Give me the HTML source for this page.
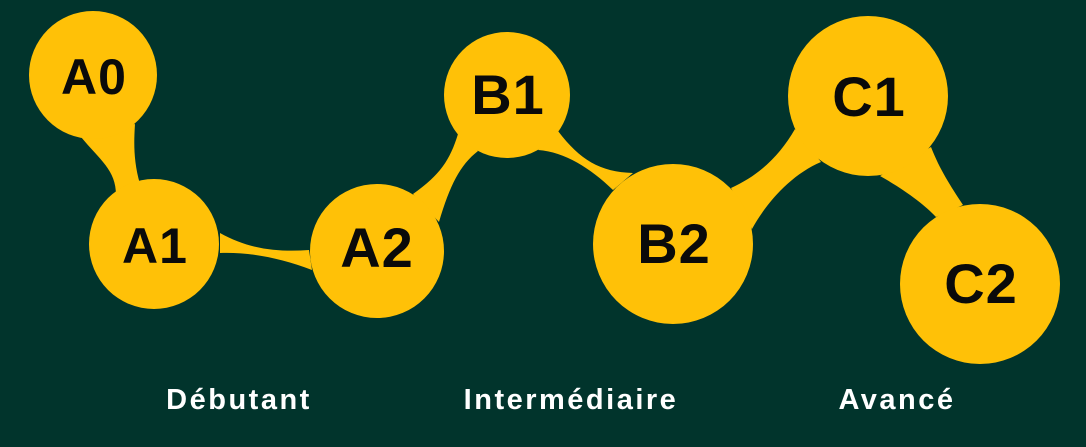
<!DOCTYPE html>
<html><head><meta charset="utf-8"><style>
html,body{margin:0;padding:0;background:#01342c;}
svg{display:block}
</style></head><body>
<svg width="1086" height="447" viewBox="0 0 1086 447" xmlns="http://www.w3.org/2000/svg">
<rect width="1086" height="447" fill="#01342c"/>
<g fill="#ffc107">
<path d="M81,137 C100,160 116,170 116,195 L140,184 C133,160 134,140 135,124 Z"/>
<path d="M220,233 C250,250 280,252 309,250 L312,270 C280,258 250,252 220,253 Z"/>
<path d="M413,194 C440,175 450,160 458,134 L478,151 C460,165 450,185 439,222 Z"/>
<path d="M558,131 C580,160 600,172 633,173 L613,190 C590,168 565,152 538,150 Z"/>
<path d="M731,188 C760,175 780,155 795,129 L821,162 C790,175 765,205 752,229 Z"/>
<path d="M880,176 C905,190 925,205 936,217 L963,205 C950,185 940,170 931,147 Z"/>
<circle cx="93" cy="75" r="64"/>
<circle cx="154" cy="244" r="65"/>
<circle cx="377" cy="251" r="67"/>
<circle cx="507" cy="95" r="63"/>
<circle cx="673" cy="244" r="80"/>
<circle cx="868" cy="96" r="80"/>
<circle cx="980" cy="284" r="80"/>
</g>
<g font-family="'Liberation Sans',sans-serif" font-weight="bold" fill="#0a0a0a" text-anchor="middle" letter-spacing="1">
<text x="94" y="94" font-size="50">A0</text>
<text x="155" y="263" font-size="50">A1</text>
<text x="377" y="267" font-size="56">A2</text>
<text x="508" y="114" font-size="56">B1</text>
<text x="674" y="263" font-size="56">B2</text>
<text x="869" y="116" font-size="56">C1</text>
<text x="981" y="303" font-size="56">C2</text>
</g>
<g font-family="'Liberation Sans',sans-serif" font-weight="bold" fill="#ffffff" text-anchor="middle" font-size="29" letter-spacing="2.5">
<text x="239" y="409">Débutant</text>
<text x="571" y="409">Intermédiaire</text>
<text x="897" y="409">Avancé</text>
</g>
</svg>
</body></html>
